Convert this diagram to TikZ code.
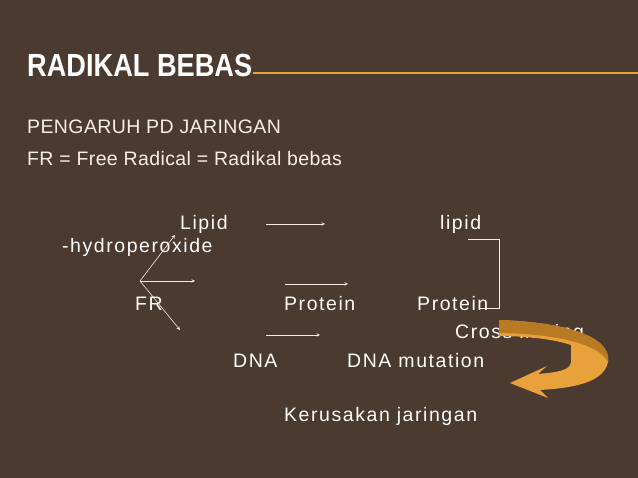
\documentclass[tikz,border=0pt]{standalone}
\usepackage{fontspec}
\setmainfont{Liberation Sans}
\newfontfamily\spaced[LetterSpace=8]{Liberation Sans}
\newfontfamily\bodyf[LetterSpace=2]{Liberation Sans}
\begin{document}
\begin{tikzpicture}[x=1pt,y=-1pt,
  dg/.style={text=white,font=\spaced\fontsize{19.5}{22}\selectfont,inner sep=0,anchor=west},
  bd/.style={text=white!88!brown,font=\bodyf\fontsize{19.5}{22}\selectfont,inner sep=0,anchor=west},
  ar/.style={white!85!brown,line width=0.6pt,-stealth}]
\definecolor{bg}{HTML}{4B3A2F}
\definecolor{org}{HTML}{E9A23B}
\definecolor{dorg}{HTML}{B87A22}
\fill[bg] (0,0) rectangle (638,478);
\useasboundingbox (0,0) rectangle (638,478);
\draw[org,line width=1.5pt] (253,73) -- (638,73);
\node[text=white,font=\bfseries\fontsize{32}{34}\selectfont,inner sep=0,anchor=south west,xscale=0.85] (t) at (27,77) {RADIKAL BEBAS};
\node[bd] (p1) at (27,127) {PENGARUH PD JARINGAN};
\node[bd] (p2) at (27,159) {FR = Free Radical = Radikal bebas};
\node[dg] (lip) at (180,224) {Lipid};
\node[dg] (lip2) at (440,224) {lipid};
\node[dg] (hyd) at (62,247) {-hydroperoxide};
\node[dg] (fr) at (135,304) {FR};
\node[dg] (pro) at (284,304) {Protein};
\node[dg] (pro2) at (417,304) {Protein};
\node[dg] (cl) at (455,333) {Cross linking};
\node[dg] (dna) at (233,361) {DNA};
\node[dg] (dm) at (347,361) {DNA mutation};
\node[dg] (ker) at (284,416) {Kerusakan jaringan};
\coordinate (o) at (140,281);
\draw[ar] (o) -- (175,235);
\draw[ar] (o) -- (195,281);
\draw[ar] (o) -- (180,330);
\draw[ar] (266,224) -- (325,224);
\draw[ar] (285,284) -- (348,284);
\draw[ar] (266,335) -- (320,335);
\draw[white!85!brown,line width=0.6pt] (468,239) -- (499,239) -- (499,308) -- (479,308);
\fill[org] (499,320) .. controls (560,322) and (612,335) .. (608,362)
  .. controls (604,382) and (575,388) .. (540,390) -- (548,398) -- (510,383) -- (547,366) -- (538,374)
  .. controls (560,372) and (570,370) .. (571,362) -- (571,345) .. controls (550,338) and (520,336) .. (499,336) -- cycle;
\fill[dorg] (499,320) .. controls (560,322) and (612,335) .. (608,362)
  .. controls (600,345) and (560,334) .. (499,333) -- cycle;
\end{tikzpicture}
\end{document}
